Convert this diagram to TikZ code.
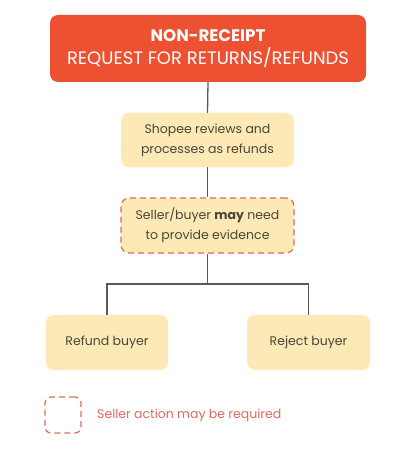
\documentclass[tikz,border=0pt]{standalone}
\usepackage{fontspec}
\setmainfont{Poppins}
\definecolor{topred}{HTML}{EE5132}
\definecolor{cream}{HTML}{FCE9B6}
\definecolor{dashred}{HTML}{E06A5C}
\definecolor{txt}{HTML}{4A4638}
\definecolor{linec}{HTML}{5A5A5A}
\begin{document}
\begin{tikzpicture}[x=1pt,y=-1pt,
  topbox/.style={fill=topred,rounded corners=8pt,text=white,align=center,inner sep=0pt},
  creambox/.style={fill=cream,rounded corners=8pt,text=txt,align=center,inner sep=0pt,font=\fontsize{12.5}{20}\selectfont},
  dashbox/.style={creambox,draw=dashred,dashed,dash pattern=on 6pt off 4pt,line width=1.2pt},
  conn/.style={draw=linec,line width=1.3pt}]
\useasboundingbox (0,0) rectangle (400,449);
\node[topbox,minimum width=316pt,minimum height=67pt] (top) at (208,48.5)
  {{\fontsize{16.7}{22}\selectfont\bfseries NON-RECEIPT}\\[5pt]{\fontsize{18}{22}\selectfont REQUEST FOR RETURNS/REFUNDS}};
\node[creambox,minimum width=173pt,minimum height=54pt] (rev) at (207.5,140) {Shopee reviews and\\processes as refunds};
\node[dashbox,minimum width=173pt,minimum height=55pt] (ev) at (207.5,225.5) {Seller/buyer \textbf{may} need\\to provide evidence};
\node[creambox,minimum width=122pt,minimum height=55pt] (ref) at (107,342.5) {Refund buyer};
\node[creambox,minimum width=123pt,minimum height=55pt] (rej) at (308.5,342.5) {Reject buyer};
\coordinate (split) at (207.5,284);
\draw[conn] (top.south) -- (rev.north);
\draw[conn] (rev.south) -- (ev.north);
\draw[conn] (ev.south) -- (split);
\draw[conn] (split) -| (ref.north);
\draw[conn] (split) -| (rej.north);
\node[draw=dashred,dashed,dash pattern=on 6pt off 4pt,line width=1.2pt,rounded corners=6pt,minimum size=36pt,inner sep=0pt] (leg) at (63,415) {};
\node[anchor=west,text=dashred,font=\fontsize{12.5}{15}\selectfont,inner sep=0pt] (legt) at (97,415) {Seller action may be required};
\end{tikzpicture}
\end{document}
